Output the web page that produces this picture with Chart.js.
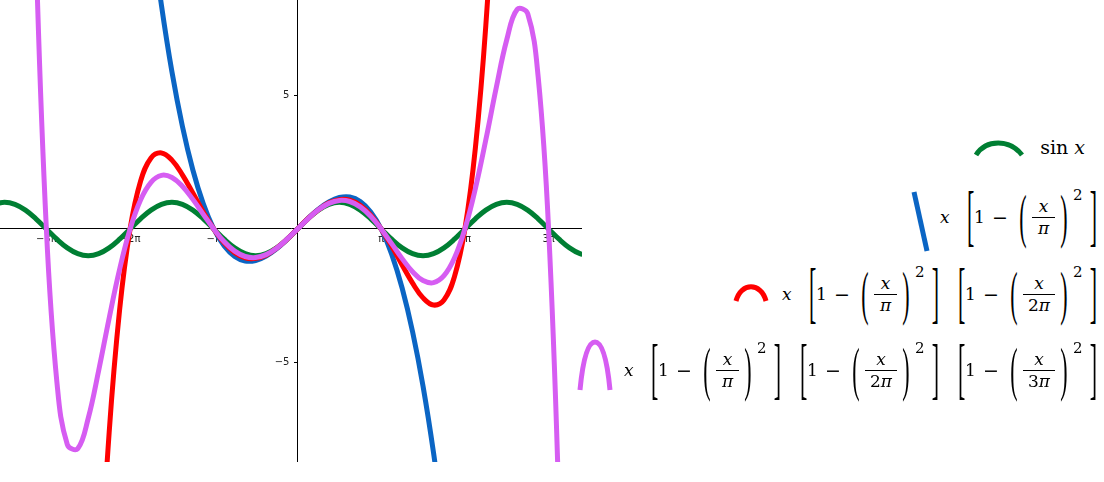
<!DOCTYPE html>
<html>
<head>
<meta charset="utf-8">
<script src="https://cdn.jsdelivr.net/npm/chart.js@4/dist/chart.umd.min.js"></script>
<style>
  html, body { margin: 0; padding: 0; background: #fff; }
  body { width: 1104px; height: 482px; position: relative; overflow: hidden; }
  #plot { position: absolute; left: 0; top: 0; }
  .sw { position: absolute; overflow: visible; }
  .row {
    position: absolute; right: 7px; height: 60px;
    display: flex; align-items: center;
    font-family: 'DejaVu Serif', serif; font-size: 17px; color: #000;
    white-space: nowrap;
  }
  .row i { font-style: italic; }
  .row > span { display: inline-block; }
  .mx { width: 10px; margin-right: 17px; }
  .bk { width: 7px; font-family: 'Liberation Serif', serif; font-size: 22px; line-height: 22px; transform: scaleY(3.05); }
  .bk.r { width: 8px; text-align: right; }
  .one { width: 10px; text-align: center; }
  .minus { width: 32px; text-align: center; font-size: 19px; }
  .pr { width: 14px; text-align: center; font-family: 'Liberation Serif', serif; font-size: 22px; line-height: 22px; transform: scaleY(2.7); }
  .frac { display: inline-flex !important; flex-direction: column; text-align: center; min-width: 23px; margin: 0 2px; }
  .nu { border-bottom: 1.2px solid #000; padding: 0 5px; line-height: 21px; }
  .de { line-height: 21px; padding: 0 5px; }
  .sq { width: 16px; padding-left: 2px; text-align: left; font-size: 15px; align-self: flex-start; margin-top: -1px; }
  .gap { width: 19px; }
  #row1 { font-size: 19px; }
  .sin { margin-right: 6px; }
</style>
</head>
<body>
<canvas id="plot" width="582" height="462"></canvas>

<svg class="sw" style="left:972px;top:134px" width="56" height="24"><path d="M4,21 C14,5 38,5 50,21" fill="none" stroke="#007f33" stroke-width="5"/></svg>
<svg class="sw" style="left:908px;top:190px" width="24" height="64"><path d="M6,2 L19,61" fill="none" stroke="#0b65c4" stroke-width="5"/></svg>
<svg class="sw" style="left:731px;top:278px" width="42" height="26"><path d="M5,23 C10,4 30,4 35,23" fill="none" stroke="#ff0000" stroke-width="5"/></svg>
<svg class="sw" style="left:573px;top:336px" width="46" height="56"><path d="M7,54 C10,22 15,6 22,6 C29,6 34,22 37,54" fill="none" stroke="#d65df2" stroke-width="5"/></svg>

<div class="row" id="row1" style="top:117px;right:19px"></div>
<div class="row" id="row2" style="top:187px"></div>
<div class="row" id="row3" style="top:264px"></div>
<div class="row" id="row4" style="top:340px"></div>

<script>
// x positions in multiples of pi
const xInPi = [
  -3.625, -3.5, -3.375, -3.25, -3.125, -3, -2.875, -2.75, -2.625, -2.5,
  -2.375, -2.25, -2.125, -2, -1.875, -1.75, -1.625, -1.5, -1.375, -1.25,
  -1.125, -1, -0.875, -0.75, -0.625, -0.5, -0.375, -0.25, -0.125, 0,
  0.125, 0.25, 0.375, 0.5, 0.625, 0.75, 0.875, 1, 1.125, 1.25,
  1.375, 1.5, 1.625, 1.75, 1.875, 2, 2.125, 2.25, 2.375, 2.5,
  2.625, 2.75, 2.875, 3, 3.125, 3.25, 3.375, 3.5
];

const sinX = [
  0.924, 1, 0.924, 0.707, 0.383, 0, -0.383, -0.707, -0.924, -1,
  -0.924, -0.707, -0.383, 0, 0.383, 0.707, 0.924, 1, 0.924, 0.707,
  0.383, 0, -0.383, -0.707, -0.924, -1, -0.924, -0.707, -0.383, 0,
  0.383, 0.707, 0.924, 1, 0.924, 0.707, 0.383, 0, -0.383, -0.707,
  -0.924, -1, -0.924, -0.707, -0.383, 0, 0.383, 0.707, 0.924, 1,
  0.924, 0.707, 0.383, 0, -0.383, -0.707, -0.924, -1
];

const oneFactor = [
  138.26, 123.70, 110.17, 97.63, 86.06, 75.40, 65.62, 56.70, 48.58, 41.23,
  34.63, 28.72, 23.47, 18.85, 14.82, 11.34, 8.38, 5.89, 3.85, 2.21,
  0.94, 0, -0.64, -1.03, -1.20, -1.18, -1.01, -0.74, -0.39, 0,
  0.39, 0.74, 1.01, 1.18, 1.20, 1.03, 0.64, 0, -0.94, -2.21,
  -3.85, -5.89, -8.38, -11.34, -14.82, -18.85, -23.47, -28.72, -34.63, -41.23,
  -48.58, -56.70, -65.62, -75.40, -86.06, -97.63, -110.17, -123.70
];

const twoFactors = [
  -315.95, -255.13, -203.56, -160.18, -124.04, -94.25, -69.98, -50.49, -35.11, -23.19,
  -14.20, -7.63, -3.03, 0, 1.79, 2.66, 2.85, 2.58, 2.03, 1.35,
  0.64, 0, -0.52, -0.89, -1.08, -1.10, -0.98, -0.72, -0.39, 0,
  0.39, 0.72, 0.98, 1.10, 1.08, 0.89, 0.52, 0, -0.64, -1.35,
  -2.03, -2.58, -2.85, -2.66, -1.79, 0, 3.03, 7.63, 14.20, 23.19,
  35.11, 50.49, 69.98, 94.25, 124.04, 160.18, 203.56, 255.13
];

const threeFactors = [
  145.36, 92.13, 54.07, 27.81, 10.55, 0, -5.71, -8.07, -8.23, -7.09,
  -5.30, -3.34, -1.51, 0, 1.09, 1.75, 2.01, 1.93, 1.60, 1.11,
  0.55, 0, -0.48, -0.83, -1.03, -1.07, -0.96, -0.72, -0.38, 0,
  0.38, 0.72, 0.96, 1.07, 1.03, 0.83, 0.48, 0, -0.55, -1.11,
  -1.60, -1.93, -2.01, -1.75, -1.09, 0, 1.51, 3.34, 5.30, 7.09,
  8.23, 8.07, 5.71, 0, -10.55, -27.81, -54.07, -92.13
];

const xTickValues = [-3, -2, -1, 1, 2, 3];
const xTickLabels = ['\u22123\u03c0', '\u22122\u03c0', '\u2212\u03c0', '\u03c0', '2\u03c0', '3\u03c0'];
const yTickValues = [-5, 5];
const yTickLabels = ['\u22125', '5'];

const seriesColors = ['#007f33', '#0b65c4', '#ff0000', '#d65df2'];

// legend formulas
function factorHtml(den) {
  return `<span class="bk">[</span><span class="one">1</span><span class="minus">\u2212</span>` +
    `<span class="pr">(</span><span class="frac"><span class="nu"><i>x</i></span><span class="de">${den}</span></span>` +
    `<span class="pr">)</span><span class="sq">2</span><span class="bk r">]</span>`;
}
const f1 = factorHtml('<i>\u03c0</i>');
const f2 = factorHtml('2<i>\u03c0</i>');
const f3 = factorHtml('3<i>\u03c0</i>');
const gap = '<span class="gap"></span>';
const lead = '<i class="mx">x</i>';

document.getElementById('row1').innerHTML = '<span class="sin">sin</span><i>x</i>';
document.getElementById('row2').innerHTML = lead + f1;
document.getElementById('row3').innerHTML = lead + f1 + gap + f2;
document.getElementById('row4').innerHTML = lead + f1 + gap + f2 + gap + f3;

function toPoints(ys) {
  return xInPi.map((x, i) => ({ x: x, y: ys[i] }));
}

function lineSet(ys, color, order) {
  return {
    data: toPoints(ys),
    borderColor: color,
    borderWidth: 5,
    pointRadius: 0,
    fill: false,
    tension: 0.4,
    order: order
  };
}

// y tick labels sit a few px left of the centred axis
const yLabelPlugin = {
  id: 'yLabels',
  beforeDatasetsDraw(chart) {
    const ctx = chart.ctx;
    const xs = chart.scales.x;
    const ys = chart.scales.y;
    const axisX = xs.getPixelForValue(0);
    ctx.save();
    ctx.font = '10px "DejaVu Sans"';
    ctx.fillStyle = '#222';
    ctx.textAlign = 'right';
    ctx.textBaseline = 'middle';
    yTickValues.forEach((v, i) => {
      ctx.fillText(yTickLabels[i], axisX - 8, ys.getPixelForValue(v));
    });
    ctx.restore();
  }
};

new Chart(document.getElementById('plot'), {
  type: 'line',
  data: {
    datasets: [
      lineSet(sinX, seriesColors[0], 4),
      lineSet(oneFactor, seriesColors[1], 3),
      lineSet(twoFactors, seriesColors[2], 2),
      lineSet(threeFactors, seriesColors[3], 1)
    ]
  },
  options: {
    responsive: false,
    animation: false,
    events: [],
    layout: { padding: 0 },
    plugins: { legend: { display: false }, tooltip: { enabled: false } },
    scales: {
      x: {
        type: 'linear',
        min: -3.554,
        max: 3.399,
        position: { y: 0 },
        grid: { drawOnChartArea: false, drawTicks: true, tickLength: 3, color: '#000' },
        border: { color: '#000', width: 1 },
        afterBuildTicks: (scale) => { scale.ticks = xTickValues.map(v => ({ value: v })); },
        ticks: {
          autoSkip: false, maxRotation: 0, padding: 1, color: '#222',
          font: { family: 'DejaVu Sans', size: 10 },
          callback: (v, i) => xTickLabels[i]
        }
      },
      y: {
        type: 'linear',
        min: -8.73,
        max: 8.58,
        position: { x: 0 },
        grid: { drawOnChartArea: false, drawTicks: true, tickLength: 3, color: '#000' },
        border: { color: '#000', width: 1 },
        afterBuildTicks: (scale) => { scale.ticks = yTickValues.map(v => ({ value: v })); },
        ticks: { display: false }
      }
    }
  },
  plugins: [yLabelPlugin]
});
</script>
</body>
</html>
